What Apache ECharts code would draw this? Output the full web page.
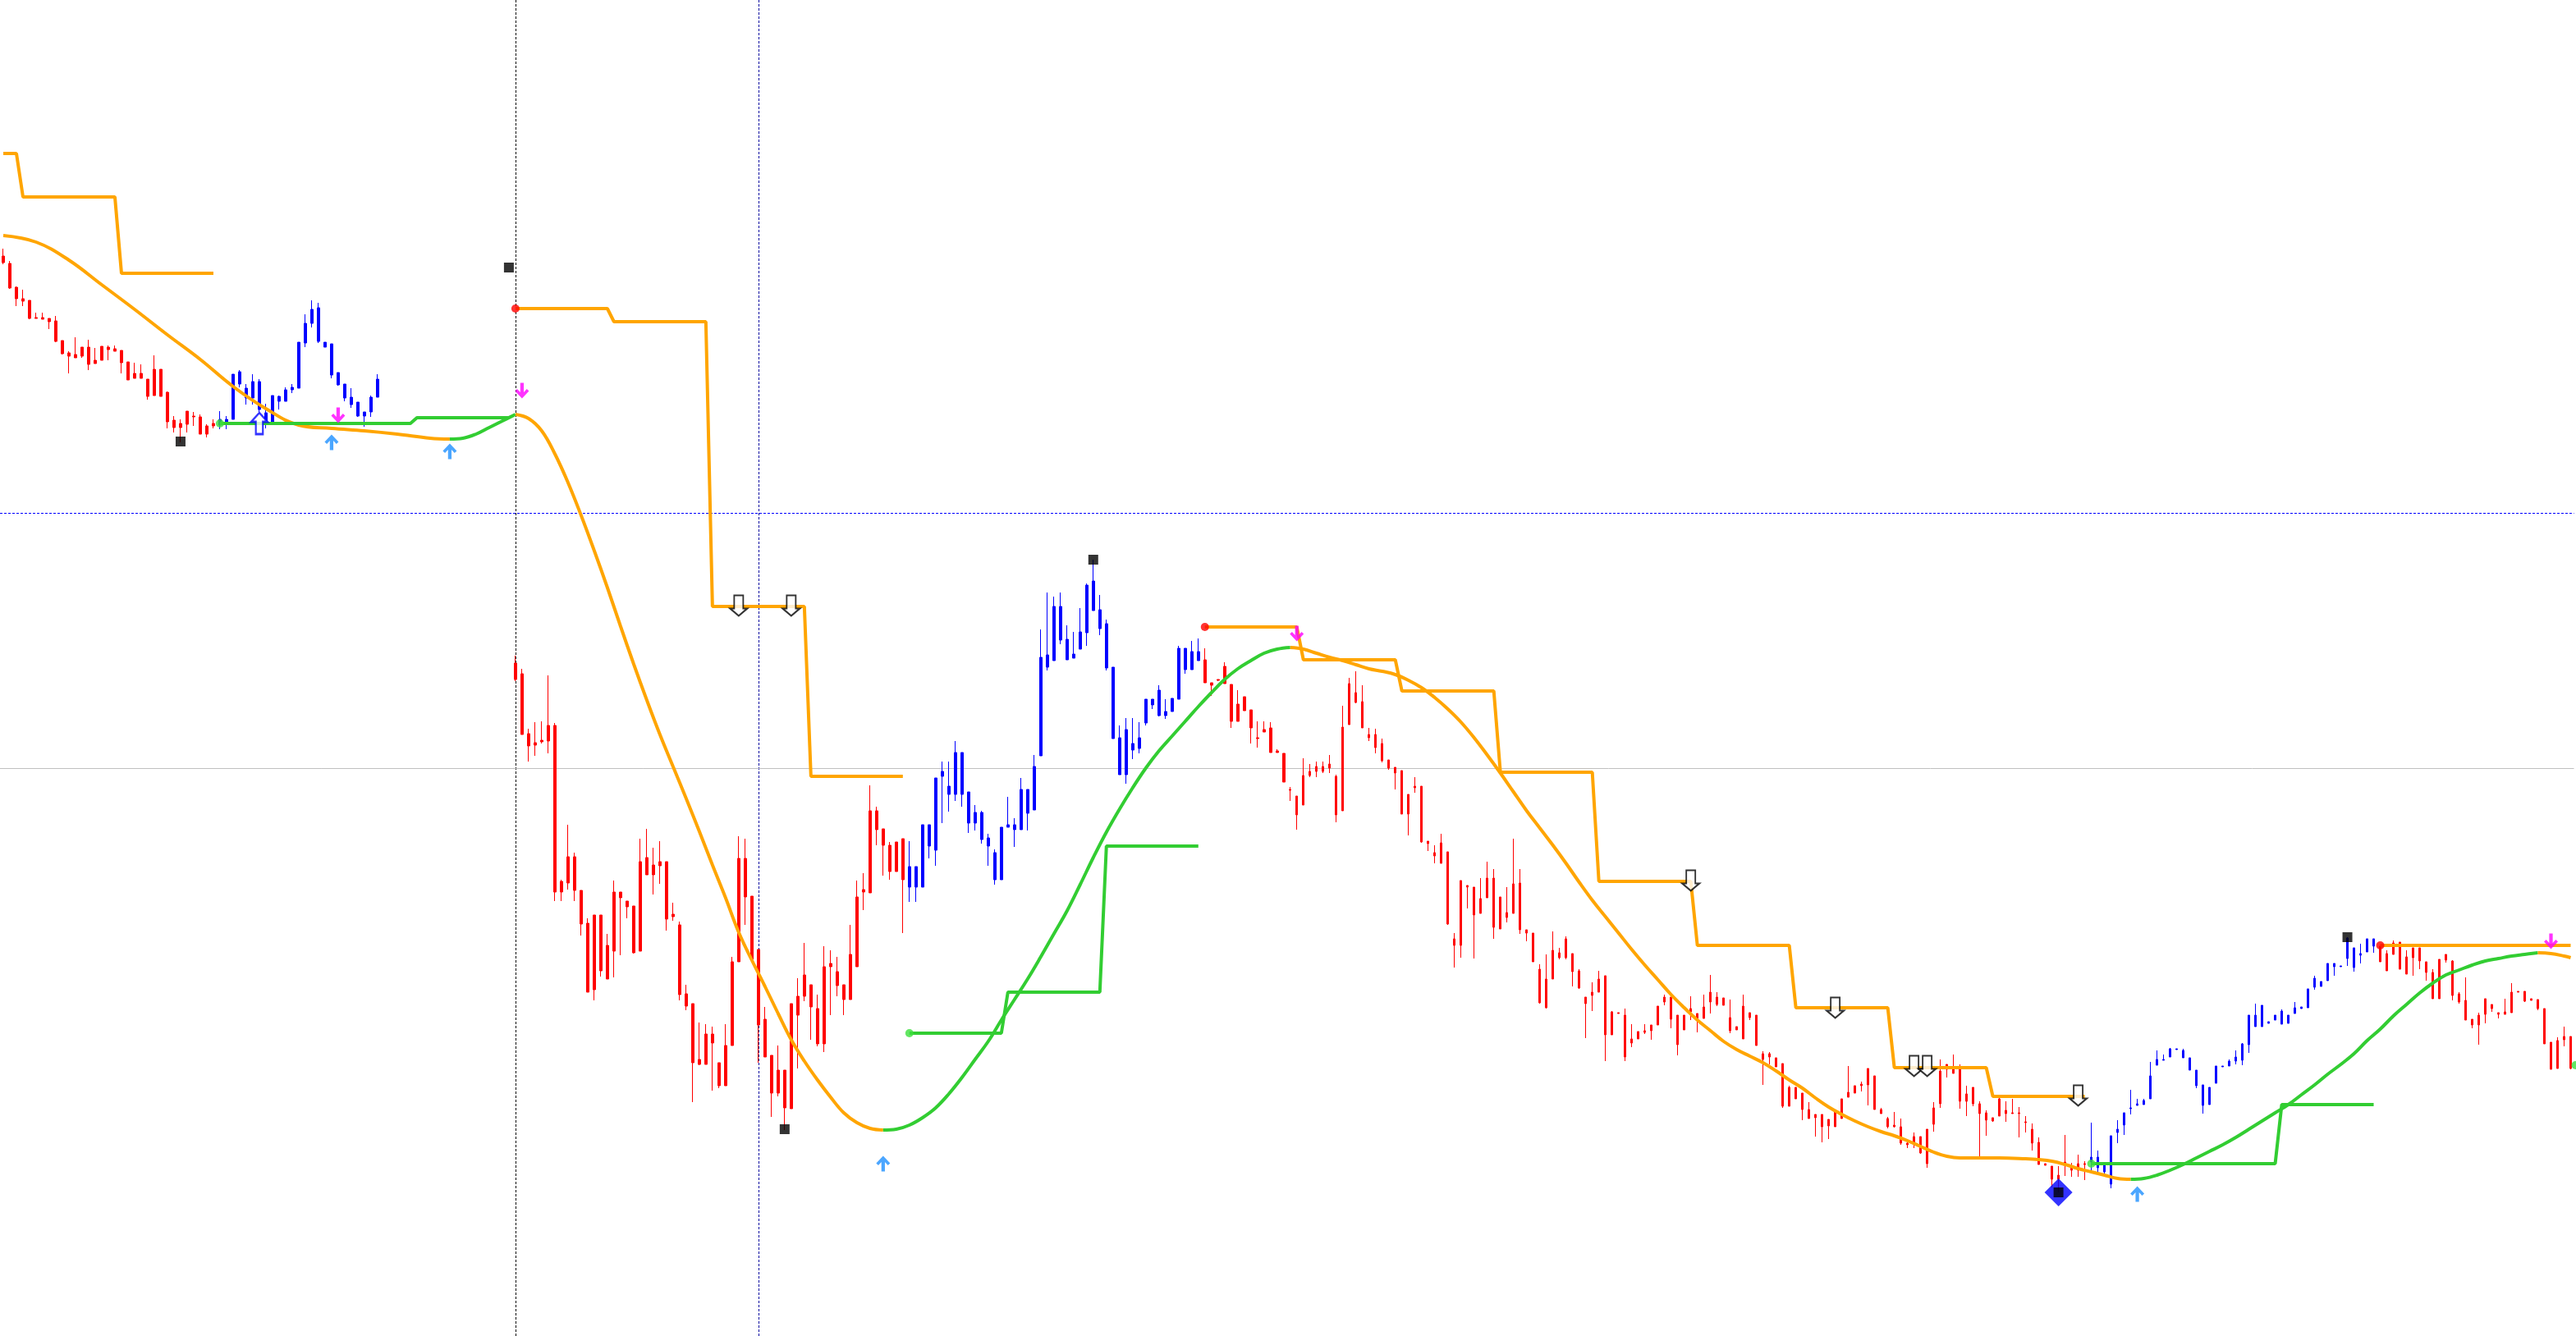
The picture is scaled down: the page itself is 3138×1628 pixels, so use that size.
<!DOCTYPE html>
<html><head><meta charset="utf-8">
<script src="https://cdn.jsdelivr.net/npm/echarts@6/dist/echarts.min.js"></script>
<style>html,body{margin:0;padding:0;background:#fff;overflow:hidden}#c{width:3138px;height:1628px}</style>
</head><body><div id="c"></div>
<script>
// y values are chart levels (axis drawn inverted, 0 at top, 1628 at bottom)
const barCount = 392;
// [bodyA, bodyB, wickTop, wickBottom] for bars 0..57
const barsA = [
[312,320,303,322],[321,351,318,352],[350,364,349,373],[364,367,353,373],[366,388,366,389],
[387,388,381,388],[387,389,381,389],[388,392,388,401],[391,416,385,417],[415,431,415,432],
[430,434,428,455],[432,436,411,436],[423,434,423,436],[423,444,414,451],[439,443,424,443],
[422,439,422,439],[423,426,421,439],[425,428,421,428],[427,442,427,455],[441,463,441,463],
[455,461,442,461],[455,461,444,461],[462,483,462,487],[450,482,433,482],[450,483,450,483],
[478,514,477,522],[512,521,507,527],[516,521,511,539],[501,517,501,527],[507,508,502,519],
[508,529,505,529],[519,529,517,533],[516,519,511,522],[511,518,501,523],[511,514,507,523],
[456,511,456,511],[453,468,451,472],[473,485,468,493],[465,485,456,493],[465,499,462,502],
[503,513,492,522],[482,514,482,515],[483,489,482,499],[475,489,472,489],[472,475,468,479],
[417,473,417,473],[394,418,383,423],[377,394,366,399],[375,416,369,418],[417,423,417,423],
[419,457,419,461],[454,469,454,470],[468,485,468,489],[484,493,473,497],[490,507,490,508],
[502,507,502,520],[484,502,482,508],[462,484,456,484]
];
const barsBStart = 78;
// bars 78..391
const barsB = [
[808,828,799,830],[821,895,815,895],[894,909,888,928],[905,908,880,921],[902,904,879,906],
[884,903,823,918],[884,1087,881,1098],[1074,1087,1072,1098],[1044,1076,1005,1084],[1044,1085,1039,1098],
[1085,1126,1085,1140],[1125,1209,1119,1209],[1115,1206,1115,1219],[1115,1183,1115,1190],[1152,1193,1138,1193],
[1087,1159,1073,1191],[1087,1094,1087,1164],[1098,1105,1098,1119],[1104,1161,1104,1162],[1050,1159,1022,1159],
[1045,1066,1010,1066],[1054,1066,1033,1090],[1050,1055,1025,1077],[1050,1120,1050,1134],[1114,1117,1100,1122],
[1127,1212,1123,1219],[1211,1226,1200,1231],[1223,1295,1223,1343],[1291,1297,1246,1298],[1260,1297,1248,1297],
[1260,1271,1251,1329],[1295,1323,1295,1326],[1274,1323,1248,1323],[1172,1274,1166,1274],[1046,1172,1019,1172],
[1046,1093,1022,1127],[1092,1169,1092,1169],[1157,1249,1157,1295],[1242,1288,1227,1288],[1286,1332,1286,1361],
[1304,1332,1274,1336],[1304,1350,1304,1377],[1223,1351,1223,1351],[1214,1237,1192,1302],[1188,1214,1149,1220],
[1200,1227,1200,1267],[1229,1272,1212,1275],[1178,1272,1153,1282],[1174,1178,1158,1237],[1184,1201,1166,1214],
[1200,1218,1200,1237],[1163,1218,1127,1218],[1093,1178,1073,1178],[1084,1087,1064,1109],[988,1088,957,1088],
[988,1011,983,1030],[1010,1030,1010,1067],[1030,1062,1026,1072],[1026,1062,1026,1062],[1022,1072,1022,1137],
[1056,1081,1025,1099],[1056,1081,1056,1099],[1005,1081,1005,1081],[1005,1031,1005,1046],[948,1036,948,1055],
[940,946,928,1003],[958,968,928,989],[917,968,903,976],[917,968,917,983],[965,1003,965,1015],
[990,1003,981,1012],[990,1023,988,1028],[1021,1031,1016,1055],[1039,1072,1035,1078],[1008,1072,1008,1072],
[1005,1008,971,1008],[1005,1011,997,1032],[962,1011,948,1011],[962,991,962,1012],[934,987,920,987],
[801,921,767,921],[798,813,722,817],[739,805,727,805],[739,780,722,785],[779,804,762,804],
[797,802,770,802],[770,791,741,791],[713,771,711,787],[708,744,682,744],[743,766,725,774],
[760,814,755,817],[813,900,813,900],[899,944,884,944],[889,944,875,955],[906,914,875,925],
[899,912,880,918],[852,881,852,884],[852,859,852,864],[841,872,835,873],[867,872,852,876],
[851,867,851,867],[790,852,787,852],[790,816,790,821],[794,816,781,816],[794,805,778,805],
[804,832,790,832],[832,835,832,848],[828,829,828,830],[812,833,807,833],[834,879,834,887],
[858,879,841,879],[849,866,849,866],[865,887,865,906],[899,900,879,911],[889,892,879,892],
[887,917,880,917],[915,917,913,917],[918,953,918,953],[962,963,959,976],[970,993,970,1011],
[945,981,924,981],[940,945,931,947],[934,940,928,947],[934,940,928,942],[931,936,920,942],
[946,993,944,1002],[886,988,860,988],[833,883,826,883],[844,856,818,857],[855,887,835,887],
[895,899,887,903],[895,911,888,918],[906,927,900,929],[926,936,926,938],[935,942,935,962],
[939,992,939,992],[968,992,968,1018],[958,960,947,966],[958,1026,958,1027],[1025,1028,1025,1037],
[1039,1043,1030,1052],[1027,1052,1016,1052],[1038,1126,1038,1127],[1144,1152,1137,1179],[1073,1152,1073,1167],
[1079,1081,1079,1107],[1081,1115,1081,1168],[1095,1113,1070,1113],[1070,1094,1050,1094],[1070,1130,1059,1144],
[1093,1132,1093,1132],[1112,1118,1081,1124],[1077,1113,1022,1113],[1076,1133,1059,1138],[1133,1137,1133,1147],
[1137,1172,1137,1172],[1181,1222,1175,1223],[1193,1228,1163,1229],[1158,1193,1135,1193],[1161,1167,1155,1169],
[1144,1167,1141,1169],[1162,1184,1162,1202],[1183,1204,1181,1205],[1215,1223,1215,1265],[1209,1213,1197,1232],
[1193,1209,1183,1209],[1189,1261,1189,1293],[1233,1261,1232,1261],[1234,1235,1234,1235],[1237,1288,1229,1293],
[1266,1271,1248,1276],[1257,1266,1257,1266],[1256,1258,1248,1260],[1249,1256,1249,1267],[1226,1249,1226,1249],
[1215,1221,1212,1225],[1215,1242,1215,1253],[1237,1273,1237,1286],[1237,1255,1237,1255],[1229,1233,1214,1243],
[1235,1241,1235,1258],[1227,1241,1212,1241],[1209,1221,1188,1235],[1215,1224,1209,1226],[1216,1225,1216,1225],
[1240,1256,1218,1259],[1251,1255,1251,1255],[1226,1266,1212,1266],[1234,1240,1234,1243],[1237,1274,1237,1274],
[1284,1291,1281,1322],[1284,1288,1282,1297],[1289,1300,1289,1300],[1296,1348,1296,1350],[1325,1348,1323,1348],
[1325,1339,1325,1339],[1332,1352,1332,1365],[1352,1363,1343,1363],[1358,1362,1358,1385],[1358,1373,1358,1392],
[1364,1372,1364,1388],[1354,1373,1354,1373],[1339,1363,1339,1363],[1331,1337,1299,1337],[1323,1332,1323,1332],
[1321,1323,1318,1330],[1302,1322,1302,1347],[1311,1352,1311,1352],[1352,1357,1350,1357],[1363,1373,1361,1375],
[1371,1373,1355,1374],[1373,1393,1363,1395],[1393,1395,1392,1399],[1385,1392,1380,1399],[1385,1405,1385,1406],
[1376,1418,1376,1423],[1350,1370,1343,1379],[1305,1345,1291,1350],[1297,1303,1297,1313],[1303,1308,1285,1308],
[1302,1342,1297,1351],[1333,1342,1323,1360],[1325,1345,1325,1348],[1345,1357,1342,1413],[1356,1365,1353,1384],
[1362,1366,1362,1367],[1339,1360,1334,1360],[1353,1357,1342,1367],[1356,1357,1339,1357],[1356,1357,1349,1386],
[1367,1368,1360,1380],[1376,1393,1369,1402],[1392,1419,1386,1419],[1418,1420,1418,1420],[1421,1437,1421,1447],
[1432,1437,1421,1453],[1416,1418,1383,1433],[1423,1426,1417,1434],[1418,1426,1407,1434],[1418,1419,1415,1438],
[1410,1416,1368,1428],[1410,1423,1402,1428],[1418,1428,1416,1430],[1384,1443,1384,1448],[1376,1380,1365,1393],
[1356,1371,1356,1383],[1350,1351,1328,1358],[1345,1347,1339,1347],[1341,1346,1339,1346],[1311,1339,1294,1339],
[1291,1298,1280,1298],[1291,1292,1285,1292],[1278,1288,1277,1288],[1278,1279,1278,1279],[1280,1289,1278,1289],
[1289,1304,1289,1304],[1304,1323,1304,1326],[1322,1347,1322,1357],[1325,1346,1325,1346],[1299,1320,1299,1320],
[1299,1300,1299,1300],[1293,1299,1291,1299],[1288,1293,1280,1297],[1272,1292,1271,1298],[1237,1273,1237,1283],
[1237,1251,1223,1251],[1225,1251,1225,1251],[1245,1247,1245,1247],[1237,1243,1237,1243],[1232,1248,1230,1248],
[1237,1247,1237,1247],[1228,1235,1221,1235],[1227,1229,1227,1229],[1205,1228,1205,1228],[1192,1203,1189,1206],
[1196,1202,1196,1202],[1174,1195,1174,1195],[1174,1178,1174,1189],[1177,1178,1177,1178],[1143,1168,1142,1177],
[1155,1179,1155,1184],[1162,1164,1150,1174],[1144,1160,1144,1160],[1144,1153,1144,1161],[1153,1172,1153,1172],
[1162,1183,1158,1183],[1149,1163,1146,1163],[1148,1181,1148,1181],[1166,1187,1158,1187],[1155,1167,1155,1189],
[1155,1171,1155,1181],[1172,1185,1172,1195],[1185,1217,1181,1217],[1169,1217,1169,1217],[1163,1170,1163,1173],
[1171,1213,1170,1219],[1211,1221,1209,1223],[1219,1243,1191,1243],[1242,1249,1242,1253],[1237,1249,1234,1273],
[1217,1236,1217,1247],[1224,1229,1224,1233],[1234,1236,1234,1241],[1233,1236,1217,1236],[1209,1234,1198,1234],
[1208,1209,1208,1209],[1208,1220,1208,1221],[1217,1219,1217,1219],[1218,1229,1218,1231],[1229,1272,1229,1272],
[1270,1303,1270,1303],[1268,1302,1264,1302],[1263,1267,1251,1275],[1263,1302,1263,1303]
];
// trend colouring of the bars
const trendRanges = [[0,32,'down'],[33,57,'up'],[78,137,'down'],[138,182,'up'],[183,317,'down'],[318,361,'up'],[362,391,'down']];

// smooth moving-average line, [bar, level]
const maLine = [
[0,287],[5,295],[10,317],[15,347],[20,377],[25,408],[30,438],[35,471],[40,498],[45,518],[50,522],[55,525],[60,529],[65,534],
[68,535],[70,534],[72,529],[74,521],[76,513],[78,505],[80,510],[82,525],[84,553],[86,588],[88,628],[90,671],[92,716],[94,763],
[96,809],[98,853],[100,895],[102,934],[104,973],[106,1013],[108,1054],[110,1094],[112,1136],[114,1170],[116,1202],[118,1235],
[120,1267],[122,1293],[124,1316],[126,1337],[128,1356],[130,1368],[132,1375],[134,1377],[136,1376],[138,1371],[140,1362],
[142,1350],[144,1333],[146,1313],[148,1291],[150,1269],[152,1243],[154,1218],[156,1193],[158,1166],[160,1138],[162,1110],
[164,1078],[166,1045],[168,1014],[170,986],[172,960],[174,936],[176,915],[178,897],[180,879],[182,861],[184,844],[186,828],
[188,815],[190,805],[192,796],[194,791],[196,789],[198,791],[200,796],[202,801],[204,805],[206,810],[208,815],[210,818],
[212,822],[214,829],[216,838],[218,850],[220,864],[222,880],[224,899],[226,920],[228,942],[230,965],[232,988],[234,1009],
[236,1030],[238,1052],[240,1075],[242,1097],[244,1117],[246,1137],[248,1157],[250,1176],[252,1194],[254,1212],[256,1228],
[258,1243],[260,1256],[262,1269],[264,1279],[266,1287],[268,1295],[270,1305],[272,1316],[274,1326],[276,1338],[278,1349],
[280,1358],[282,1366],[284,1373],[286,1379],[288,1384],[290,1390],[292,1397],[294,1404],[296,1409],[298,1411],[300,1411],
[304,1411],[308,1412],[310,1413],[312,1415],[314,1419],[316,1424],[318,1428],[320,1432],[322,1436],[324,1437],[326,1436],
[328,1432],[330,1426],[332,1419],[334,1411],[336,1403],[338,1395],[340,1386],[342,1376],[344,1366],[346,1356],[348,1346],
[350,1334],[352,1322],[354,1309],[356,1297],[358,1284],[360,1268],[362,1254],[364,1238],[366,1224],[368,1210],[370,1198],
[372,1188],[374,1182],[376,1176],[378,1171],[380,1168],[382,1165],[384,1163],[386,1161],[388,1162],[390,1165],[391,1167]
];
const maSegments = [[0,68,'fall'],[68,78,'rise'],[78,134,'fall'],[134,196,'rise'],[196,324,'fall'],[324,386,'rise'],[386,391,'fall']];

// resistance (orange) and support (green) step lines, [bar, level]
const resistSteps = [
  [[0,187],[2,187],[3,240],[17,240],[18,333],[32,333]],
  [[78,376],[92,376],[93,392],[107,392],[108,739],[122,739],[123,946],[137,946]],
  [[183,764],[197,764],[198,804],[212,804],[213,842],[227,842],[228,941],[242,941],[243,1074],[257,1074],
   [258,1152],[272,1152],[273,1228],[287,1228],[288,1301],[302,1301],[303,1336],[317,1336]],
  [[362,1152],[391,1152]]
];
const supportSteps = [
  [[33,516],[62,516],[63,509],[77,509]],
  [[138,1259],[152,1259],[153,1209],[167,1209],[168,1031],[182,1031]],
  [[318,1418],[346,1418],[347,1346],[361,1346]]
];
const resistStarts = [[78,376],[183,764],[362,1152]];
const supportStarts = [[33,516],[138,1259],[318,1418]];
const supportEdgeDot = [[391,1298]];
const blackSquares = [[27,538],[77,326],[119,1376],[166,682],[313,1453],[357,1142]];
const blueDiamonds = [[313,1453]];
const sellArrows = [[51,506],[79,476],[197,772],[388,1147]];
const buyArrows = [[50,539],[68,550],[134,1418],[325,1455]];
const hollowDown = [[112,738],[120,738],[257,1073],[279,1228],[291,1299],[293,1299],[316,1335]];
const hollowUp = [[39,516]];
const vLines = [78,115];
const hLines = [625,936];

// ---------- build ----------
const bars = [];
for (let i = 0; i < barCount; i++) bars.push(null);
barsA.forEach((b,k)=>{bars[k]=b;});
barsB.forEach((b,k)=>{bars[barsBStart+k]=b;});
function candleData(kind){
  const out=[];
  trendRanges.forEach(([a,b,t])=>{
    if(t!==kind) return;
    for(let i=a;i<=b;i++){
      const r=bars[i]; if(!r) continue;
      out.push([i,r[0],r[1],Math.min(r[0],r[1],r[2]),Math.max(r[0],r[1],r[3])]);
    }
  });
  return out;
}
const ORANGE='#ffa500', GREEN='#32cd32', RED='#ff0000', BLUE='#0000ff';
const cats=[]; for(let i=0;i<barCount;i++) cats.push(i);

const series=[];
function candle(kind,color,withMarks){
  const s={type:'candlestick',data:candleData(kind),encode:{x:0,y:[1,2,3,4]},barWidth:3,z:2,
    itemStyle:{color:color,color0:color,borderColor:color,borderColor0:color,borderWidth:1}};
  if(withMarks){
    s.markLine={silent:true,symbol:['none','none'],label:{show:false},animation:false,z:1,
      data:[
        {xAxis:vLines[0],lineStyle:{color:'#000000',type:[3,2],width:1}},
        {xAxis:vLines[1],lineStyle:{color:'#0000a0',type:[3,2],width:1}},
        {yAxis:hLines[0]+0.5,lineStyle:{color:'#0000ff',type:[3,2],width:1}},
        {yAxis:hLines[1]+0.5,lineStyle:{color:'#c0c0c0',type:'solid',width:1}}
      ]};
  }
  return s;
}
series.push(candle('down',RED,true));
series.push(candle('up',BLUE,false));

maSegments.forEach(([a,b,t])=>{
  series.push({type:'line',data:maLine.filter(p=>p[0]>=a&&p[0]<=b),showSymbol:false,symbol:'none',z:3,smooth:0.4,
    lineStyle:{color:t==='fall'?ORANGE:GREEN,width:4},silent:true});
});
resistSteps.forEach(seg=>series.push({type:'line',data:seg,symbol:'none',z:3,lineStyle:{color:ORANGE,width:4},silent:true}));
supportSteps.forEach(seg=>series.push({type:'line',data:seg,symbol:'none',z:3,lineStyle:{color:GREEN,width:4},silent:true}));

function sc(data,symbol,size,style,z,extra){
  return Object.assign({type:'scatter',data:data,symbol:symbol,symbolSize:size,itemStyle:style,z:z||5,silent:true},extra||{});
}
series.push(sc(blueDiamonds,'diamond',[34,34],{color:BLUE},5));
series.push(sc(blackSquares,'rect',12,{color:'#000'},6));
series.push(sc(resistStarts,'circle',10,{color:RED},6));
series.push(sc(supportStarts,'circle',10,{color:'#3ce03c'},6));
series.push(sc(supportEdgeDot,'circle',10,{color:'#3ce03c'},6,{symbolOffset:[6,0]}));
series.push(sc(sellArrows,'path://M6,0L10,0L10,11L13.5,7L16,9.5L8,18L0,9.5L2.5,7L6,11Z',[17,19],{color:'#ff00ff'},6));
series.push(sc(buyArrows,'path://M8,0L16,8.5L13.5,11L10,7L10,18L6,18L6,7L2.5,11L0,8.5Z',[17,19],{color:'#1e90ff'},6));
series.push(sc(hollowDown,'path://M5,0L16,0L16,16L21,16L10.5,25L0,16L5,16Z',[21,25],{color:'#fff',borderColor:'#000',borderWidth:2},6));
series.push(sc(hollowUp,'path://M10.5,0L21,11L15,11L15,26L6,26L6,11L0,11Z',[20,26],{color:'#fff',borderColor:BLUE,borderWidth:2.5},6));

const chart=echarts.init(document.getElementById('c'),null,{renderer:'canvas'});
chart.setOption({
  animation:false,
  backgroundColor:'#ffffff',
  grid:{left:-0.5,top:0,width:3136,height:1628,containLabel:false},
  xAxis:{type:'category',data:cats,boundaryGap:true,show:false},
  yAxis:{type:'value',inverse:true,min:0,max:1628,show:false,splitLine:{show:false}},
  series:series
});
</script>
</body></html>
